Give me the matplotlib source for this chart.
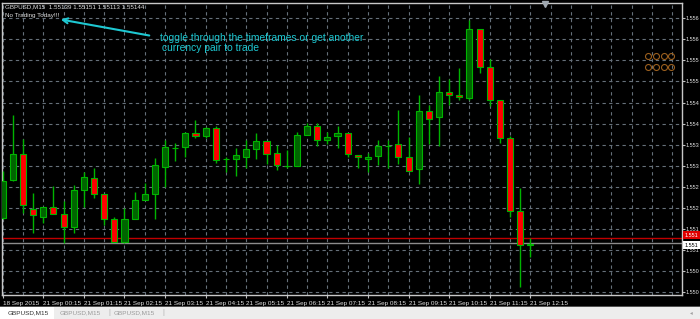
import numpy as np
import matplotlib
matplotlib.use("Agg")
import matplotlib.pyplot as plt
from matplotlib.patches import Rectangle
from matplotlib.ticker import FixedLocator

plt.rcParams['font.family'] = ['Liberation Sans', 'DejaVu Sans']

# GBPUSD M15 candles
opens = [1.55176, 1.55266, 1.55328, 1.55198, 1.55179, 1.55202, 1.55187, 1.55154, 1.55242, 1.55272,
         1.55233, 1.55174, 1.55120, 1.55173, 1.55218, 1.55233, 1.55297, 1.55343, 1.55344, 1.55377,
         1.55370, 1.55390, 1.55316, 1.55317, 1.55322, 1.55339, 1.55358, 1.55330, 1.55300, 1.55300,
         1.55372, 1.55394, 1.55361, 1.55370, 1.55377, 1.55326, 1.55316, 1.55323, 1.55347, 1.55351,
         1.55320, 1.55292, 1.55429, 1.55417, 1.55474, 1.55468, 1.55462, 1.55624, 1.55535, 1.55456,
         1.55367, 1.55194, 1.55112]
highs = [1.55288, 1.55421, 1.55364, 1.55236, 1.55202, 1.55252, 1.55217, 1.55255, 1.55286, 1.55296,
         1.55233, 1.55179, 1.55199, 1.55239, 1.55259, 1.55318, 1.55361, 1.55355, 1.55380, 1.55409,
         1.55393, 1.55394, 1.55322, 1.55343, 1.55361, 1.55377, 1.55358, 1.55349, 1.55338, 1.55380,
         1.55401, 1.55401, 1.55380, 1.55394, 1.55379, 1.55326, 1.55330, 1.55361, 1.55361, 1.55432,
         1.55368, 1.55468, 1.55444, 1.55512, 1.55506, 1.55531, 1.55646, 1.55624, 1.55553, 1.55456,
         1.55371, 1.55247, 1.55128]
lows = [1.55174, 1.55265, 1.55188, 1.55141, 1.55164, 1.55187, 1.55117, 1.55141, 1.55203, 1.55223,
        1.55161, 1.55120, 1.55118, 1.55173, 1.55218, 1.55174, 1.55251, 1.55312, 1.55322, 1.55365,
        1.55365, 1.55306, 1.55286, 1.55277, 1.55296, 1.55316, 1.55304, 1.55290, 1.55296, 1.55300,
        1.55372, 1.55347, 1.55353, 1.55343, 1.55322, 1.55294, 1.55286, 1.55302, 1.55294, 1.55304,
        1.55288, 1.55256, 1.55353, 1.55347, 1.55444, 1.55456, 1.55456, 1.55520, 1.55442, 1.55355,
        1.55179, 1.55013, 1.55084]
closes = [1.55264, 1.55328, 1.55207, 1.55183, 1.55202, 1.55187, 1.55154, 1.55243, 1.55273, 1.55234,
          1.55173, 1.55120, 1.55174, 1.55219, 1.55233, 1.55301, 1.55344, 1.55343, 1.55377, 1.55371,
          1.55390, 1.55313, 1.55316, 1.55325, 1.55340, 1.55358, 1.55327, 1.55301, 1.55300, 1.55372,
          1.55394, 1.55361, 1.55369, 1.55377, 1.55327, 1.55320, 1.55322, 1.55346, 1.55347, 1.55320,
          1.55288, 1.55429, 1.55412, 1.55474, 1.55467, 1.55463, 1.55624, 1.55534, 1.55455, 1.55365,
          1.55194, 1.55112, 1.55116]

time_labels = ["18 Sep 2015"] + ["21 Sep %02d:15" % h for h in range(13)]
time_label_pos = list(range(0, 53, 4))
price_ticks = [1.55000, 1.55050, 1.55100, 1.55150, 1.55200, 1.55250, 1.55300,
               1.55350, 1.55400, 1.55450, 1.55500, 1.55550, 1.55600, 1.55650]
hline_price = 1.55130
bid_price = 1.55118
header = "GBPUSD,M15  1.55139 1.55151 1.55113 1.55144"

W, H = 700, 319
fig = plt.figure(figsize=(W / 100, H / 100), dpi=100, facecolor='black')
ax = fig.add_axes([2 / W, 24 / H, 680 / W, 292 / H])
ax.set_facecolor('black')

x = np.arange(len(opens))
o = np.array(opens)
c = np.array(closes)
up = c >= o

edge = '#00b400'
ax.vlines(x, lows, highs, color=edge, lw=1.0, zorder=3)
face = np.where(up, '#006400', '#ff0000')
ax.bar(x, np.abs(c - o), bottom=np.minimum(o, c), width=0.6,
       color=face, edgecolor=edge, linewidth=0.8, zorder=4)

ax.axhline(hline_price, color='#c00000', lw=1.0, zorder=2)
ax.axhline(bid_price, color='#8c8c8c', lw=1.0, zorder=2)

ax.set_xlim(-0.07, 66.95)
ax.set_ylim(1.54994, 1.55686)

# grid
ax.xaxis.set_major_locator(FixedLocator(time_label_pos))
ax.xaxis.set_minor_locator(FixedLocator(list(range(0, 68, 2))))
ax.set_xticklabels(time_labels)
for lab in ax.get_xticklabels():
    lab.set_horizontalalignment('left')
ax.set_yticks(price_ticks)
# the terminal window cuts the price scale, only the first digits show
ax.set_yticklabels([("%.5f" % p)[:5] for p in price_ticks])
ax.yaxis.tick_right()
gkw = dict(color='#66707a', lw=0.8, linestyle=(0, (3, 3)))
ax.grid(True, which='both', axis='x', **gkw)
ax.grid(True, which='major', axis='y', **gkw)
ax.set_axisbelow(True)

ax.tick_params(axis='x', which='major', length=2.5, width=0.8, color='#c0c0c0',
               labelcolor='#e0e0e0', labelsize=4.6, pad=1.5)
ax.tick_params(axis='x', which='minor', length=0)
ax.tick_params(axis='y', length=2.2, width=0.8, color='#c0c0c0',
               labelcolor='#e0e0e0', labelsize=4.0, pad=0.6)
for s in ax.spines.values():
    s.set_color('#c8c8c8')
    s.set_linewidth(1.0)

# price labels on the right
trans = ax.get_yaxis_transform()
ax.text(1.004, hline_price, ("%.5f" % hline_price)[:5], transform=trans, fontsize=4.0,
        color='white', va='bottom', ha='left', clip_on=False,
        bbox=dict(boxstyle='square,pad=0.25', fc='#e00000', ec='none'))
ax.text(1.004, bid_price, ("%.5f" % bid_price)[:5], transform=trans, fontsize=4.0,
        color='black', va='top', ha='left', clip_on=False,
        bbox=dict(boxstyle='square,pad=0.25', fc='white', ec='none'))

# header texts
fig.text(5 / W, 1 - 7 / H, header, color='#e0e0e0', fontsize=4.5, va='center')
fig.text(5 / W, 1 - 16 / H, "No Trading Today!!!", color='#e0e0e0', fontsize=4.5, va='center')

# annotation
cyan = '#1ec8d2'
fig.text(160 / W, 1 - 38 / H, "toggle through the timeframes or get another",
         color=cyan, fontsize=7.4, va='center')
fig.text(162 / W, 1 - 48 / H, "currency pair to trade", color=cyan, fontsize=7.4, va='center')
ax.annotate("", xy=(58, H - 19), xycoords='figure pixels',
            xytext=(152, H - 36), textcoords='figure pixels',
            arrowprops=dict(arrowstyle='->', color=cyan, lw=1.5,
                            mutation_scale=9))

# orange circles (one-click trading widget)
for row in (56, 67):
    for cx in (648, 656, 663.5, 671):
        fig.add_artist(plt.Line2D([cx / W], [1 - row / H], marker='o', markersize=4.3,
                                  markerfacecolor='none', markeredgecolor='#9a5f1e',
                                  markeredgewidth=0.8, transform=fig.transFigure))

# chart shift marker
fig.add_artist(plt.Line2D([545 / W], [1 - 4 / H], marker='v', markersize=4,
                          color='#a0a8b0', transform=fig.transFigure))

# tab bar
fig.add_artist(Rectangle((0, 0), 1, 12 / H, transform=fig.transFigure,
                         fc='#ededed', ec='none'))
fig.add_artist(Rectangle((0, 12 / H), 1, 1.2 / H, transform=fig.transFigure,
                         fc='#505050', ec='none'))
fig.add_artist(Rectangle((0, 0), 54 / W, 12 / H, transform=fig.transFigure,
                         fc='white', ec='none'))
fig.text(8 / W, 6 / H, "GBPUSD,M15", color='#303030', fontsize=4.6, va='center')
fig.text(60 / W, 6 / H, "GBPUSD,M15", color='#9a9a9a', fontsize=4.6, va='center')
fig.text(108 / W, 6 / H, "|", color='#b0b0b0', fontsize=5, va='center')
fig.text(114 / W, 6 / H, "GBPUSD,M15", color='#9a9a9a', fontsize=4.6, va='center')
fig.text(162 / W, 6 / H, "|", color='#b0b0b0', fontsize=5, va='center')
fig.text(690 / W, 6 / H, "◂", color='#a0a0a0', fontsize=4, va='center')

fig.savefig("out.png", dpi=100, facecolor='black')
